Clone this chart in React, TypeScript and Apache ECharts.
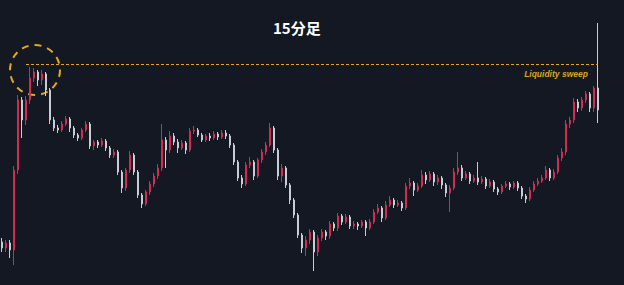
import React, { useEffect, useRef } from "react";
import * as echarts from "echarts";

// 15-minute candles (price units), one entry per bar
const opens = [
  58, 52, 57, 50, 130, 200, 180, 200, 222, 228, 220, 226, 210, 180, 172, 170, 176, 181, 172, 165,
  162, 170, 176, 154, 158, 155, 159, 152, 145, 148, 128, 112, 130, 145, 128, 105, 96, 108, 116, 124,
  132, 160, 150, 164, 158, 152, 157, 150, 169, 170, 165, 160, 164, 162, 166, 163, 167, 164, 155, 138,
  122, 116, 135, 138, 124, 140, 148, 155, 172, 150, 124, 132, 115, 100, 85, 65, 52, 60, 68, 48,
  62, 68, 64, 76, 72, 84, 78, 83, 74, 76, 74, 78, 72, 78, 88, 92, 82, 95, 100, 95,
  97, 92, 114, 117, 110, 114, 125, 120, 126, 118, 122, 115, 107, 112, 128, 132, 122, 126, 119, 122,
  118, 121, 114, 118, 111, 108, 114, 116, 113, 117, 112, 104, 101, 110, 116, 119, 122, 130, 122, 128,
  142, 148, 176, 180, 198, 192, 200, 206, 192, 212,
];
const closes = [
  52, 57, 50, 130, 200, 180, 200, 222, 228, 220, 226, 210, 180, 172, 170, 176, 181, 172, 165, 162,
  170, 176, 154, 158, 155, 159, 152, 145, 148, 128, 112, 130, 145, 128, 105, 96, 108, 116, 124, 132,
  160, 150, 164, 158, 152, 157, 150, 169, 170, 165, 160, 164, 162, 166, 163, 167, 164, 155, 138, 122,
  116, 135, 138, 124, 140, 148, 155, 172, 150, 124, 132, 115, 100, 85, 65, 52, 60, 68, 48, 62,
  68, 64, 76, 72, 84, 78, 83, 74, 76, 74, 78, 72, 78, 88, 92, 82, 95, 100, 95, 97,
  92, 114, 117, 110, 114, 125, 120, 126, 118, 122, 115, 107, 112, 128, 132, 122, 126, 119, 122, 118,
  121, 114, 118, 111, 108, 114, 116, 113, 117, 112, 104, 101, 110, 116, 119, 122, 130, 122, 128, 142,
  148, 176, 180, 198, 192, 200, 206, 192, 212, 190,
];
const lows = [
  48, 48, 42, 35, 126, 162, 175, 196, 218, 214, 215, 204, 176, 169, 167, 168, 174, 168, 162, 159,
  160, 168, 151, 150, 152, 153, 149, 142, 142, 125, 107, 109, 127, 125, 102, 92, 94, 105, 113, 121,
  129, 132, 147, 155, 147, 150, 146, 148, 166, 163, 158, 158, 159, 160, 160, 161, 161, 152, 135, 119,
  112, 114, 132, 120, 122, 137, 145, 153, 147, 120, 118, 112, 96, 82, 62, 47, 44, 56, 29, 44,
  59, 60, 61, 69, 69, 75, 76, 71, 71, 70, 72, 64, 70, 76, 86, 78, 80, 93, 92, 93,
  89, 90, 111, 104, 108, 112, 116, 118, 114, 115, 111, 103, 88, 110, 125, 119, 120, 116, 117, 115,
  116, 111, 112, 108, 105, 106, 112, 110, 111, 109, 101, 97, 99, 108, 114, 117, 120, 119, 120, 126,
  139, 145, 172, 177, 188, 189, 197, 188, 188, 177,
];
const highs = [
  62, 60, 60, 134, 205, 203, 204, 233, 232, 230, 230, 228, 212, 183, 175, 179, 184, 183, 174, 167,
  172, 179, 178, 160, 160, 162, 161, 154, 151, 150, 130, 132, 149, 147, 130, 107, 110, 119, 127, 136,
  176, 163, 169, 167, 161, 160, 159, 172, 174, 172, 167, 166, 167, 169, 168, 170, 170, 166, 157, 140,
  125, 138, 143, 140, 142, 151, 158, 177, 174, 152, 136, 134, 117, 102, 87, 67, 64, 71, 70, 65,
  71, 70, 79, 78, 87, 86, 86, 85, 79, 78, 80, 80, 81, 91, 96, 94, 99, 104, 102, 100,
  99, 117, 122, 119, 117, 130, 128, 129, 128, 125, 124, 117, 115, 132, 148, 135, 129, 128, 125, 138,
  124, 123, 121, 120, 113, 116, 119, 118, 119, 119, 114, 106, 113, 119, 122, 125, 134, 132, 131, 145,
  152, 180, 183, 202, 201, 203, 209, 208, 214, 277,
];
const categories = opens.map((_, i) => `${i + 1}`);

const sweepLevel = 235.5;
const title = "15分足";
const sweepLabel = "Liquidity sweep";

const GOLD = "#e2a91f";

export default function App() {
  const ref = useRef<HTMLDivElement>(null);
  useEffect(() => {
    document.body.style.margin = "0";
    const chart = echarts.init(ref.current!, undefined, { renderer: "svg" });
    const candles = opens.map((o, i) => [o, closes[i], lows[i], highs[i]]);
    chart.setOption({
      animation: false,
      backgroundColor: "#141822",
      title: {
        text: title,
        left: 268,
        top: 15,
        textStyle: {
          color: "#ffffff",
          fontSize: 15,
          fontWeight: "bold",
          fontFamily: "Noto Sans CJK JP",
        },
      },
      grid: { left: 0, right: 24, top: 0, bottom: 0 },
      xAxis: {
        type: "category",
        data: categories,
        show: false,
        boundaryGap: true,
      },
      yAxis: {
        type: "value",
        min: 15,
        max: 300,
        show: false,
        splitLine: { show: false },
      },
      series: [
        {
          type: "candlestick",
          data: candles,
          barWidth: 2,
          itemStyle: {
            color: "#d42a4c",
            color0: "#c9ccd3",
            borderColor: "#d42a4c",
            borderColor0: "#c9ccd3",
            borderWidth: 1,
          },
          markLine: {
            silent: true,
            symbol: "none",
            label: { show: false },
            lineStyle: { color: GOLD, width: 1, type: [3, 2] },
            data: [
              [
                { coord: [6, sweepLevel] },
                { coord: [149, sweepLevel] },
              ],
            ],
          },
        },
      ],
      graphic: [
        {
          type: "circle",
          shape: { cx: 35, cy: 70, r: 25 },
          style: {
            fill: "none",
            stroke: GOLD,
            lineWidth: 2,
            lineDash: [7, 6],
          },
          silent: true,
        },
        {
          type: "text",
          x: 556,
          y: 74,
          style: {
            text: sweepLabel,
            fill: "#d9a520",
            font: "italic 600 8.5px 'Liberation Sans'",
            textAlign: "center",
            textVerticalAlign: "middle",
          },
          silent: true,
        },
      ],
    });
    return () => chart.dispose();
  }, []);
  return <div ref={ref} style={{ width: 624, height: 285 }} />;
}
